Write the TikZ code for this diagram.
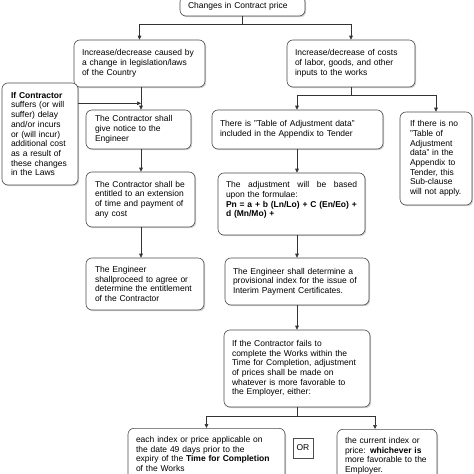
\documentclass[tikz,border=0pt]{standalone}
\usepackage{fontspec}
\setmainfont{Liberation Sans}
\usetikzlibrary{arrows.meta,shadows,calc}
\tikzset{
  box/.style={draw=black!70, line width=0.6pt, rounded corners=6pt, fill=white,
    align=left, inner xsep=8pt, inner ysep=3pt,
    font=\fontsize{8.5}{9.7}\selectfont,
    drop shadow={shadow xshift=1.2pt, shadow yshift=-1.2pt, opacity=0.3, fill=black!60}},
  orbox/.style={draw=black!70, line width=0.6pt, fill=white, minimum size=20pt, inner sep=0pt,
    font=\fontsize{8.5}{9.7}\selectfont,
    drop shadow={shadow xshift=1pt, shadow yshift=-1pt, opacity=0.3, fill=black!60}},
  arr/.style={draw=black!80, line width=0.6pt, -{Triangle[length=4pt,width=3.6pt]}},
  ln/.style={draw=black!80, line width=0.6pt},
}
\begin{document}
\begin{tikzpicture}[x=1pt,y=-1pt]
\useasboundingbox (0,0) rectangle (474,474);
\clip (0,0) rectangle (474,474);
\fill[white] (0,0) rectangle (474,474);

\coordinate (colL) at (141,0);
\coordinate (colR) at (297,0);
\coordinate (colLb) at (375,0);

\node[box, text width=109, minimum height=20] (T) at (242.5,6) {Changes in Contract price};

\node[box, text width=115, minimum height=47] (A) at (139.5,63.5) {Increase/decrease caused by\\a change in legislation/laws\\of the Country};
\node[box, text width=112, minimum height=47] (B) at (351,63.5) {Increase/decrease of costs\\of labor, goods, and other\\inputs to the works};

\node[box, text width=58, inner xsep=9pt, minimum height=102] (L0) at (40,134) {\textbf{If Contractor}\\suffers (or will\\suffer) delay\\and/or incurs\\or (will incur)\\additional cost\\as a result of\\these changes\\in the Laws};

\node[box, text width=87, inner xsep=9pt, minimum height=39] (C) at (138.5,129.5) {The Contractor shall\\give notice to the\\Engineer};
\node[box, text width=91, inner xsep=9pt, minimum height=55] (D) at (140.5,199.5) {The Contractor shall be\\entitled to an extension\\of time and payment of\\any cost};
\node[box, text width=100, inner xsep=9pt, minimum height=52] (E) at (145,284) {The Engineer\\shallproceed to agree or\\determine the entitlement\\of the Contractor};

\node[box, text width=155, minimum height=39] (F) at (297.5,129.5) {There is "Table of Adjustment data"\\included in the Appendix to Tender};
\node[box, text width=52, inner xsep=10pt, minimum height=93] (G) at (436,158.5) {If there is no\\"Table of\\Adjustment\\data" in the\\Appendix to\\Tender, this\\Sub-clause\\will not apply.};

\node[box, text width=131, minimum height=62] (H) at (291.5,204) {The\hfill adjustment\hfill will\hfill be\hfill based\\upon the formulae:\\\textbf{Pn = a + b (Ln/Lo) + C (En/Eo) +}\\\textbf{d (Mn/Mo) +}\\\mbox{}};
\node[box, text width=128, minimum height=47] (I) at (297,281.5) {The Engineer shall determine a\\provisional index for the issue of\\Interim Payment Certificates.};
\node[box, text width=130, minimum height=77] (J) at (297,368.5) {If the Contractor fails to\\complete the Works within the\\Time for Completion, adjustment\\of prices shall be made on\\whatever is more favorable to\\the Employer, either:};

\node[box, text width=141, inner ysep=8pt, anchor=north] (K) at (206.5,428) {each index or price applicable on\\the date 49 days prior to the\\expiry of the \textbf{Time for Completion}\\of the Works};
\node[orbox] (OR) at (303,448) {OR};
\node[box, text width=84, inner ysep=8pt, anchor=north] (Lb) at (387,429) {the current index or\\price: \textbf{whichever is}\\more favorable to the\\Employer.};

% connectors
\coordinate (t1) at (T.south |- 0,24);
\draw[ln] (T.south) -- (t1);
\draw[arr] (t1) -| (A.north);
\draw[arr] (t1) -| (B.north);

\coordinate (j1) at (A.south -| colL);
\draw[arr] (A.south -| colL) -- (C.north -| colL);
\coordinate (j1b) at ($(j1)+(0,16)$);
\draw[arr] (L0.east |- j1b) -- (j1b);
\draw[arr] (C.south -| colL) -- (D.north -| colL);
\draw[arr] (D.south -| colL) -- (E.north -| colL);

\coordinate (b1) at (B.south |- 0,95);
\draw[ln] (B.south) -- (b1);
\draw[arr] (b1) -| (F.north -| colR);
\draw[arr] (b1) -| (G.north);

\draw[arr] (F.south -| colR) -- (H.north -| colR);
\draw[arr] (H.south -| colR) -- (I.north -| colR);
\draw[arr] (I.south -| colR) -- (J.north -| colR);

\coordinate (j2) at (J.south |- 0,416);
\draw[ln] (J.south) -- (j2);
\draw[arr] (j2) -| (K.north);
\draw[arr] (j2) -| (Lb.north -| colLb);
\end{tikzpicture}
\end{document}
